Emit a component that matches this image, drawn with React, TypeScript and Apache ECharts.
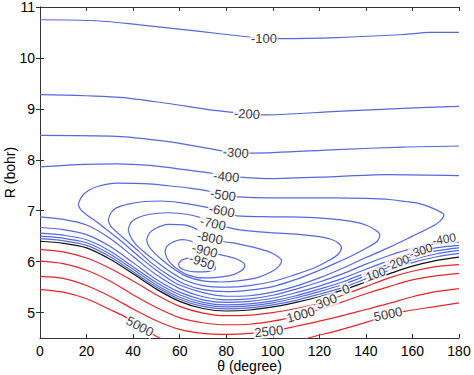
import React, { useEffect, useRef } from "react";
import * as echarts from "echarts";

// ---- axes ----
const xTicks = [0, 20, 40, 60, 80, 100, 120, 140, 160, 180];
const yTicks = [5, 6, 7, 8, 9, 10, 11];
const xTitle = "θ (degree)";
const yTitle = "R (bohr)";

// ---- repulsive-wall contours sampled at these angles ----
const thetaGrid = [0, 10, 20, 30, 40, 50, 60, 70, 80, 90, 100, 110, 120, 130, 140, 150, 160, 170, 180];
const wall0 = [6.40, 6.36, 6.27, 6.05, 5.76, 5.46, 5.22, 5.08, 5.03, 5.05, 5.11, 5.20, 5.31, 5.44, 5.60, 5.76, 5.91, 6.02, 6.09];
const wallA = [6.45, 6.41, 6.32, 6.10, 5.80, 5.50, 5.26, 5.12, 5.07, 5.09, 5.15, 5.24, 5.36, 5.49, 5.66, 5.83, 5.98, 6.09, 6.16];
const wall100 = [6.50, 6.46, 6.37, 6.15, 5.85, 5.54, 5.30, 5.16, 5.11, 5.13, 5.19, 5.29, 5.41, 5.55, 5.72, 5.89, 6.04, 6.15, 6.22];
const wall200 = [6.56, 6.52, 6.43, 6.21, 5.90, 5.59, 5.35, 5.20, 5.15, 5.17, 5.23, 5.33, 5.46, 5.60, 5.78, 5.95, 6.10, 6.21, 6.27];
const wall300 = [6.67, 6.63, 6.53, 6.30, 5.98, 5.65, 5.40, 5.25, 5.20, 5.22, 5.28, 5.39, 5.52, 5.67, 5.85, 6.02, 6.17, 6.27, 6.32];
const wall400 = [6.88, 6.83, 6.72, 6.46, 6.10, 5.74, 5.47, 5.31, 5.25, 5.27, 5.34, 5.46, 5.60, 5.76, 5.95, 6.12, 6.26, 6.35, 6.38];

// ---- long-range contours [theta, R] ----
const top100 = [[0, 10.75], [24.3, 10.73], [42.9, 10.65], [68.7, 10.52], [85.9, 10.43], [96, 10.39], [102.6, 10.38], [127.5, 10.40], [156.3, 10.46], [167.4, 10.50], [180, 10.50]];
const top200 = [[0, 9.28], [32.9, 9.23], [54.4, 9.11], [71.6, 8.99], [82.9, 8.93], [88.9, 8.90], [95.3, 8.88], [127.5, 8.95], [156.1, 9.01], [180, 9.05]];
const top300 = [[0, 8.48], [32.9, 8.46], [54.4, 8.36], [71.6, 8.23], [80.1, 8.16], [84.1, 8.14], [90.2, 8.13], [127.5, 8.20], [156.1, 8.25], [180, 8.27]];
const top400 = [[0, 7.86], [18.6, 7.91], [32.9, 7.92], [47.2, 7.89], [63, 7.80], [74.4, 7.73], [80.3, 7.68], [86, 7.66], [98.7, 7.63], [127.5, 7.67], [149, 7.71], [180, 7.69]];

// ---- closed well contours [theta, R] ----
const loop500 = [[16.4, 7.12], [18, 7.28], [21, 7.40], [25, 7.48], [33, 7.54], [45, 7.53], [55, 7.49], [65, 7.44], [72, 7.39], [78.6, 7.31], [85, 7.27], [99, 7.25], [115, 7.25], [127, 7.25], [140, 7.24], [150, 7.22], [157, 7.18], [163, 7.14], [167, 7.08], [171, 7.00], [173.5, 6.92],
  [172, 6.80], [168, 6.68], [160, 6.50], [150, 6.28], [140, 6.08], [130, 5.87], [120, 5.68], [110, 5.52], [100, 5.40], [90, 5.33], [80, 5.32], [70, 5.39], [60, 5.54], [55, 5.67], [50, 5.83], [45, 6.01], [40, 6.20], [35, 6.40], [30, 6.58], [25, 6.76], [20, 6.92], [17.5, 7.02], [16.4, 7.12]];
const loop600 = [[29.3, 6.82], [30.5, 6.96], [33, 7.06], [38, 7.13], [45, 7.18], [52, 7.19], [60, 7.16], [68, 7.10], [78.1, 7.00], [84.6, 6.90], [100, 6.88], [115, 6.87], [127, 6.83], [135, 6.78], [140.5, 6.71], [144, 6.62], [146, 6.53],
  [145, 6.41], [141.7, 6.30], [135, 6.14], [127, 5.97], [120, 5.83], [110, 5.65], [100, 5.51], [90, 5.44], [80, 5.41], [70, 5.45], [62, 5.56], [55, 5.74], [48, 5.97], [42, 6.22], [37, 6.42], [33, 6.58], [30.3, 6.70], [29.3, 6.82]];
const loop700 = [[37.9, 6.63], [39, 6.76], [42, 6.86], [47, 6.93], [55, 6.96], [63, 6.93], [70, 6.85], [74.3, 6.75], [80, 6.68], [85, 6.63], [98.7, 6.57], [110, 6.54], [120, 6.49], [125, 6.44], [128, 6.37], [129.5, 6.27],
  [128, 6.14], [124, 6.02], [118, 5.88], [110, 5.75], [100, 5.61], [90, 5.53], [80, 5.50], [70, 5.53], [62, 5.64], [55, 5.83], [50, 6.00], [45, 6.18], [41, 6.35], [38.8, 6.50], [37.9, 6.63]];
const loop800 = [[45.8, 6.43], [47, 6.56], [50, 6.66], [55, 6.73], [62, 6.72], [68, 6.62], [73, 6.47], [78, 6.40], [85, 6.35], [92, 6.28], [98, 6.20], [101.5, 6.12], [103.8, 6.02],
  [102.5, 5.90], [99, 5.79], [93, 5.68], [85, 5.62], [78, 5.60], [70, 5.62], [63, 5.71], [57, 5.87], [52, 6.05], [48.5, 6.20], [46.5, 6.32], [45.8, 6.43]];
const loop900 = [[53.7, 6.20], [54.5, 6.30], [57, 6.38], [61, 6.43], [65, 6.40], [68, 6.32], [70.8, 6.22], [75, 6.16], [80, 6.11], [84, 6.06], [87, 5.99], [88, 5.93],
  [86.5, 5.82], [82, 5.73], [76, 5.69], [70, 5.68], [64, 5.73], [60, 5.82], [56.5, 5.95], [54.5, 6.07], [53.7, 6.20]];
const loop950 = [[59.5, 5.96], [61, 6.03], [64, 6.07], [68, 6.06], [72, 6.00], [75, 5.92], [75.3, 5.86], [72.5, 5.81], [67, 5.80], [62.5, 5.83], [60, 5.89], [59.5, 5.96]];

// ---- positive (repulsive) contours [theta, R] ----
const pos300 = [[0, 6.24], [10, 6.19], [20, 6.07], [30, 5.87], [40, 5.62], [50, 5.35], [60, 5.12], [70, 4.99], [80, 4.94], [90, 4.95], [100, 5.00], [110, 5.08], [120, 5.18], [130, 5.34], [140, 5.51], [150, 5.68], [160, 5.81], [170, 5.90], [180, 5.94]];
const pos1000 = [[0, 6.01], [10, 5.96], [20, 5.83], [30, 5.62], [40, 5.35], [50, 5.10], [60, 4.90], [70, 4.80], [80, 4.76], [90, 4.77], [100, 4.83], [110, 4.93], [120, 5.06], [130, 5.21], [140, 5.37], [150, 5.51], [160, 5.64], [170, 5.72], [180, 5.77]];
const pos2500 = [[0, 5.71], [10, 5.67], [20, 5.53], [30, 5.32], [40, 5.07], [50, 4.84], [60, 4.67], [70, 4.59], [80, 4.57], [90, 4.59], [98, 4.63], [105, 4.68], [110, 4.73], [120, 4.83], [130, 4.94], [140, 5.06], [150, 5.18], [160, 5.31], [170, 5.41], [180, 5.47]];
const pos5000a = [[0, 5.45], [10, 5.40], [20, 5.27], [30, 5.06], [36, 4.93], [43, 4.74], [49, 4.56], [55, 4.42]];
const pos5000b = [[112, 4.42], [115.3, 4.50], [127.5, 4.64], [141.7, 4.83], [149.5, 4.96], [158.8, 5.04], [170.4, 5.12], [180, 5.19]];

// ---- contour labels ----
const labelTexts = ["-100", "-200", "-300", "-400", "-500", "-600", "-700", "-800", "-900", "-950", "0", "-100", "-200", "-300", "-400", "300", "1000", "2500", "5000", "5000"];
const labelTheta = [96.2, 88.9, 84.1, 80.1, 78.6, 78.1, 74.3, 73, 70.8, 69.6, 131.4, 143.4, 153.6, 163.6, 173.6, 123, 112, 98.3, 42.9, 149.5];
const labelR = [10.38, 8.90, 8.14, 7.67, 7.31, 7.00, 6.75, 6.47, 6.22, 6.00, 5.46, 5.74, 5.98, 6.21, 6.44, 5.22, 4.96, 4.63, 4.73, 4.97];
const labelAngle = [0, -3, -4, -5, -8, -10, -12, -12, -14, -18, 20, 20, 20, 18, 10, 20, 15, 6, -28, 12];
const labelSmall = [false, false, false, false, false, false, false, false, false, false, false, true, true, true, true, false, false, false, false, false];

const BLUE = "#5468e0";
const RED = "#e3262b";
const BLACK = "#111111";
const FONT = "Liberation Sans, Arial, Helvetica, sans-serif";

function lineSeries(name: string, data: number[][], color: string) {
  return {
    name,
    type: "line",
    data,
    showSymbol: false,
    symbol: "none",
    smooth: 0.3,
    clip: true,
    lineStyle: { color, width: 1.2 },
    z: 2,
    silent: true,
  };
}

export default function App() {
  const ref = useRef<HTMLDivElement>(null);
  useEffect(() => {
    if (!ref.current) return;
    const chart = echarts.init(ref.current, undefined, { renderer: "svg" });
    const wallSeries = [
      ["wallA", wallA],
      ["wall100", wall100],
      ["wall200", wall200],
      ["wall300", wall300],
      ["wall400", wall400],
    ].map(([n, arr]) =>
      lineSeries(n as string, thetaGrid.map((t, i) => [t, (arr as number[])[i]]), BLUE)
    );
    const blueSeries = [
      lineSeries("top100", top100, BLUE),
      lineSeries("top200", top200, BLUE),
      lineSeries("top300", top300, BLUE),
      lineSeries("top400", top400, BLUE),
      lineSeries("loop500", loop500, BLUE),
      lineSeries("loop600", loop600, BLUE),
      lineSeries("loop700", loop700, BLUE),
      lineSeries("loop800", loop800, BLUE),
      lineSeries("loop900", loop900, BLUE),
      lineSeries("loop950", loop950, BLUE),
    ];
    const redSeries = [
      lineSeries("pos300", pos300, RED),
      lineSeries("pos1000", pos1000, RED),
      lineSeries("pos2500", pos2500, RED),
      lineSeries("pos5000a", pos5000a, RED),
      lineSeries("pos5000b", pos5000b, RED),
    ];
    const zeroSeries = lineSeries(
      "zero",
      thetaGrid.map((t, i) => [t, wall0[i]]),
      BLACK
    );
    const labelData = labelTexts.map((txt, i) => ({
      value: [labelTheta[i], labelR[i]],
      label: labelSmall[i]
        ? { formatter: txt, rotate: labelAngle[i], fontSize: 12, padding: 0 }
        : { formatter: txt, rotate: labelAngle[i] },
    }));
    const axisLineStyle = { color: "#333", width: 1 };
    chart.setOption({
      animation: false,
      backgroundColor: "#ffffff",
      grid: { left: 40, right: 15, top: 7, bottom: 37, containLabel: false, outerBoundsMode: "none" },
      xAxis: [
        {
          type: "value",
          min: 0,
          max: 180,
          interval: 20,
          position: "bottom",
          name: xTitle,
          nameLocation: "middle",
          nameGap: 21,
          nameMoveOverlap: false,
          nameTextStyle: { fontSize: 14, lineHeight: 14, color: "#000", fontFamily: FONT, verticalAlign: "top" },
          axisLine: { show: true, lineStyle: axisLineStyle },
          axisTick: { show: true, inside: true, length: 4, lineStyle: axisLineStyle },
          axisLabel: { fontSize: 14, lineHeight: 14, color: "#000", margin: 6, fontFamily: FONT },
          splitLine: { show: false },
        },
        {
          type: "value",
          min: 0,
          max: 180,
          interval: 20,
          position: "top",
          axisLine: { show: true, lineStyle: axisLineStyle },
          axisTick: { show: true, inside: true, length: 4, lineStyle: axisLineStyle },
          axisLabel: { show: false },
          splitLine: { show: false },
        },
      ],
      yAxis: [
        {
          type: "value",
          min: 4.5,
          max: 11,
          position: "left",
          name: yTitle,
          nameLocation: "middle",
          nameGap: 23,
          nameRotate: 90,
          nameMoveOverlap: false,
          nameTextStyle: { fontSize: 14, color: "#000", fontFamily: FONT, verticalAlign: "bottom" },
          axisLine: { show: true, lineStyle: axisLineStyle },
          axisTick: { show: true, inside: true, length: 4, lineStyle: axisLineStyle, customValues: yTicks },
          axisLabel: { fontSize: 14, color: "#000", margin: 5, fontFamily: FONT, customValues: yTicks },
          splitLine: { show: false },
        },
        {
          type: "value",
          min: 4.5,
          max: 11,
          position: "right",
          axisLine: { show: true, lineStyle: axisLineStyle },
          axisTick: { show: true, inside: true, length: 4, lineStyle: axisLineStyle, customValues: yTicks },
          axisLabel: { show: false },
          splitLine: { show: false },
        },
      ],
      series: [
        ...wallSeries,
        ...blueSeries,
        ...redSeries,
        zeroSeries,
        {
          name: "labels",
          type: "scatter",
          data: labelData,
          symbolSize: 1,
          itemStyle: { color: "rgba(0,0,0,0)" },
          z: 10,
          silent: true,
          label: {
            show: true,
            position: "inside",
            fontSize: 13,
            color: "#000",
            fontFamily: FONT,
            backgroundColor: "#ffffff",
            padding: [0, 1],
          },
        },
      ],
    });
    return () => chart.dispose();
  }, []);
  return (
    <div
      ref={ref}
      style={{ position: "fixed", left: 0, top: 0, width: 474, height: 375, background: "#fff" }}
    />
  );
}
